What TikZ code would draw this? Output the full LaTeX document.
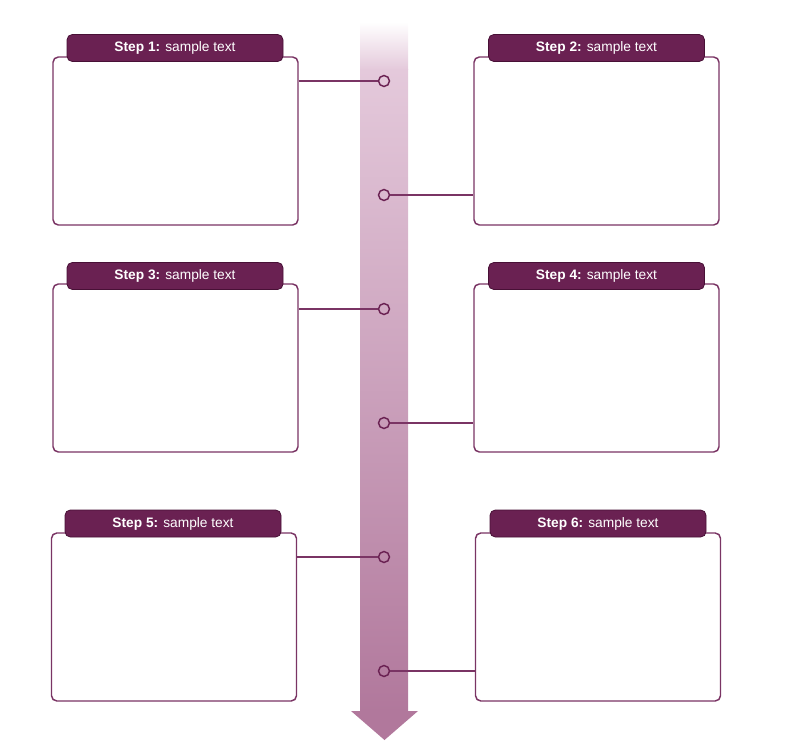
\documentclass[tikz,border=0pt]{standalone}
\usepackage{fontspec}
\setmainfont{Liberation Sans}
\usepackage{xcolor}
\usepackage{tikz}
\usetikzlibrary{calc}
\usetikzlibrary{arrows.meta}
\usetikzlibrary{shapes}
\usetikzlibrary{positioning}
\definecolor{plum}{RGB}{106,33,82}
\definecolor{plumdark}{RGB}{72,16,54}
\definecolor{plumline}{RGB}{122,52,100}
\definecolor{shaftlight}{RGB}{228,201,219}
\definecolor{shaftdark}{RGB}{177,120,156}
\tikzset{>=latex}
\tikzstyle{stepbox} = [rectangle, rounded corners=4pt, draw=plumline, line width=1.1pt, fill=white, minimum width=183.75pt, minimum height=126pt]
\tikzstyle{steptab} = [rectangle, rounded corners=4pt, draw=plumdark, line width=0.6pt, fill=plum, text=white, minimum width=162pt, minimum height=20.25pt, inner sep=0pt, font=\fontsize{10.3}{12}\selectfont]
\tikzstyle{dot} = [circle, draw=plum, line width=1.1pt, minimum size=8.2pt, inner sep=0pt]
\tikzstyle{link} = [-, draw=plumline, line width=1.1pt]

\begin{document}
\begin{tikzpicture}[x=0.75pt, y=-0.75pt]
\useasboundingbox (0,0) rectangle (785,756);
% timeline arrow
\shade [top color=white, bottom color=shaftlight] (360,22) rectangle (408,70);
\shade [top color=shaftlight, bottom color=shaftdark] (360,70) rectangle (408,712);
\fill [shaftdark] (351,711) -- (418,711) -- (384.5,740) -- cycle;
% boxes
\node [stepbox] (B1) at (175.5,141) {};
\node [stepbox] (B2) at (596.5,141) {};
\node [stepbox] (B3) at (175.5,368) {};
\node [stepbox] (B4) at (596.5,368) {};
\node [stepbox] (B5) at (174,617) {};
\node [stepbox] (B6) at (598,617) {};
% tabs
\node [steptab] (T1) at (175,48) {\textbf{Step 1:} sample text};
\node [steptab] (T2) at (596.5,48) {\textbf{Step 2:} sample text};
\node [steptab] (T3) at (175,276) {\textbf{Step 3:} sample text};
\node [steptab] (T4) at (596.5,276) {\textbf{Step 4:} sample text};
\node [steptab] (T5) at (173,523.5) {\textbf{Step 5:} sample text};
\node [steptab] (T6) at (598,523.5) {\textbf{Step 6:} sample text};
% dots on the timeline
\node [dot] (D1) at (384,81) {};
\node [dot] (D2) at (384,195) {};
\node [dot] (D3) at (384,309) {};
\node [dot] (D4) at (384,423) {};
\node [dot] (D5) at (384,557) {};
\node [dot] (D6) at (384,671) {};
\draw [link] (B1.east |- D1) -- (D1);
\draw [link] (D2) -- (B2.west |- D2);
\draw [link] (B3.east |- D3) -- (D3);
\draw [link] (D4) -- (B4.west |- D4);
\draw [link] (B5.east |- D5) -- (D5);
\draw [link] (D6) -- (B6.west |- D6);
\end{tikzpicture}
\end{document}
